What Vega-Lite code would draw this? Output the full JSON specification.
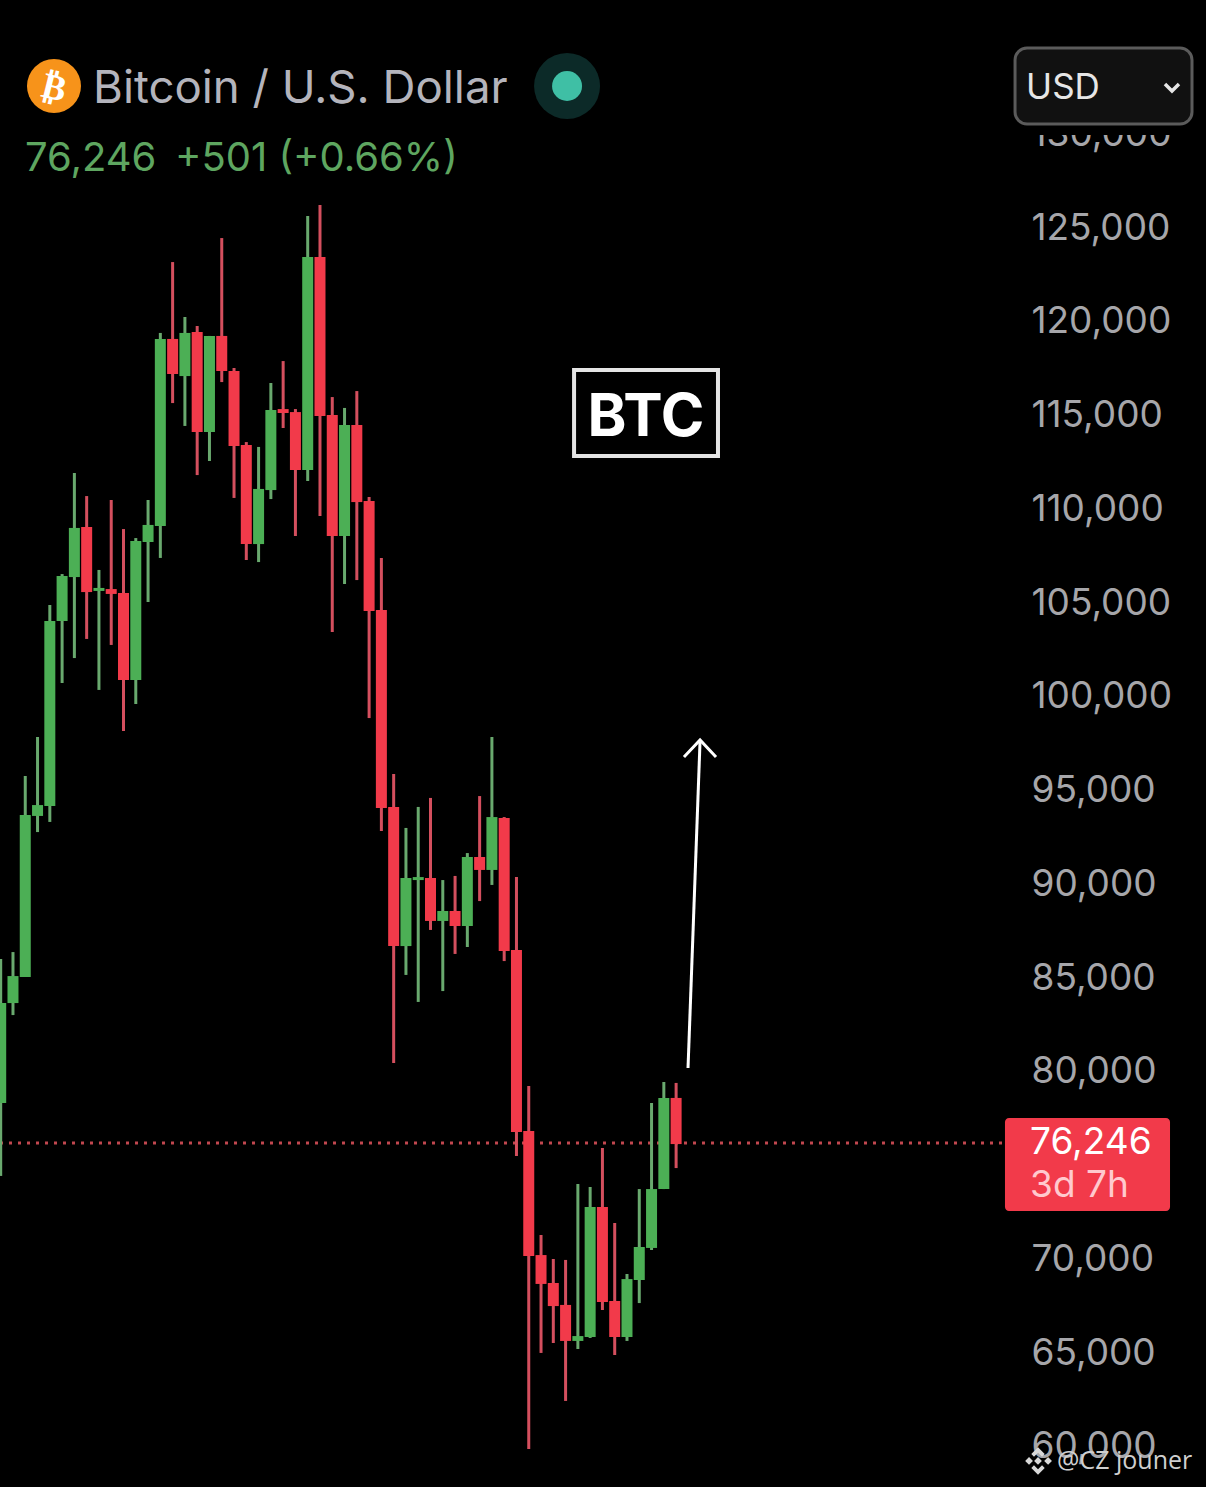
{"$schema":"https://vega.github.io/schema/vega-lite/v6.json","width":1206,"height":1487,"padding":0,"autosize":{"type":"none"},"background":"#000000","config":{"view":{"stroke":null},"axis":{"grid":false,"domain":false,"ticks":false}},
"datasets":{"candles":[
{"i":0,"high":85960,"open":78280,"close":83610,"low":74390,"dir":"up"},
{"i":1,"high":86330,"open":83610,"close":85050,"low":82970,"dir":"up"},
{"i":2,"high":95720,"open":85000,"close":93640,"low":85000,"dir":"up"},
{"i":3,"high":97800,"open":93590,"close":94170,"low":92730,"dir":"up"},
{"i":4,"high":104840,"open":94120,"close":103990,"low":93270,"dir":"up"},
{"i":5,"high":106490,"open":103990,"close":106390,"low":100680,"dir":"up"},
{"i":6,"high":111880,"open":106330,"close":108950,"low":102010,"dir":"up"},
{"i":7,"high":110650,"open":109000,"close":105530,"low":103030,"dir":"down"},
{"i":8,"high":106710,"open":105590,"close":105750,"low":100310,"dir":"up"},
{"i":9,"high":110440,"open":105690,"close":105430,"low":102710,"dir":"down"},
{"i":10,"high":108890,"open":105480,"close":100840,"low":98120,"dir":"down"},
{"i":11,"high":108410,"open":100840,"close":108250,"low":99560,"dir":"up"},
{"i":12,"high":110440,"open":108200,"close":109110,"low":105000,"dir":"up"},
{"i":13,"high":119350,"open":109050,"close":119030,"low":107350,"dir":"up"},
{"i":14,"high":123130,"open":119030,"close":117160,"low":115610,"dir":"down"},
{"i":15,"high":120200,"open":117050,"close":119350,"low":114390,"dir":"up"},
{"i":16,"high":119720,"open":119400,"close":114070,"low":111770,"dir":"down"},
{"i":17,"high":119190,"open":114070,"close":119190,"low":112520,"dir":"up"},
{"i":18,"high":124410,"open":119190,"close":117320,"low":116730,"dir":"down"},
{"i":19,"high":117480,"open":117320,"close":113320,"low":110550,"dir":"down"},
{"i":20,"high":113530,"open":113370,"close":108090,"low":107240,"dir":"down"},
{"i":21,"high":113270,"open":108090,"close":111030,"low":107130,"dir":"up"},
{"i":22,"high":116680,"open":110970,"close":115240,"low":110490,"dir":"up"},
{"i":23,"high":117850,"open":115290,"close":115080,"low":114280,"dir":"down"},
{"i":24,"high":115290,"open":115130,"close":112040,"low":108520,"dir":"down"},
{"i":25,"high":125590,"open":112040,"close":123400,"low":111450,"dir":"up"},
{"i":26,"high":126170,"open":123400,"close":114920,"low":109590,"dir":"down"},
{"i":27,"high":115930,"open":114970,"close":108520,"low":103400,"dir":"down"},
{"i":28,"high":115350,"open":108520,"close":114440,"low":105960,"dir":"up"},
{"i":29,"high":116250,"open":114440,"close":110330,"low":106170,"dir":"down"},
{"i":30,"high":110600,"open":110390,"close":104520,"low":98810,"dir":"down"},
{"i":31,"high":107350,"open":104570,"close":94010,"low":92790,"dir":"down"},
{"i":32,"high":95830,"open":94070,"close":86650,"low":80410,"dir":"down"},
{"i":33,"high":92950,"open":86650,"close":90280,"low":85110,"dir":"up"},
{"i":34,"high":94070,"open":90170,"close":90330,"low":83670,"dir":"up"},
{"i":35,"high":94550,"open":90280,"close":87990,"low":87510,"dir":"down"},
{"i":36,"high":90170,"open":87990,"close":88520,"low":84250,"dir":"up"},
{"i":37,"high":90390,"open":88520,"close":87720,"low":86230,"dir":"down"},
{"i":38,"high":91610,"open":87720,"close":91400,"low":86600,"dir":"up"},
{"i":39,"high":94650,"open":91400,"close":90710,"low":89050,"dir":"down"},
{"i":40,"high":97800,"open":90710,"close":93530,"low":89910,"dir":"up"},
{"i":41,"high":93530,"open":93480,"close":86390,"low":85850,"dir":"down"},
{"i":42,"high":90330,"open":86440,"close":76730,"low":75450,"dir":"down"},
{"i":43,"high":79190,"open":76790,"close":70120,"low":59830,"dir":"down"},
{"i":44,"high":71240,"open":70170,"close":68630,"low":64950,"dir":"down"},
{"i":45,"high":69960,"open":68680,"close":67450,"low":65480,"dir":"down"},
{"i":46,"high":69910,"open":67510,"close":65590,"low":62390,"dir":"down"},
{"i":47,"high":73960,"open":65590,"close":65850,"low":65160,"dir":"up"},
{"i":48,"high":73800,"open":65800,"close":72730,"low":65750,"dir":"up"},
{"i":49,"high":75880,"open":72730,"close":67670,"low":67240,"dir":"down"},
{"i":50,"high":71880,"open":67720,"close":65800,"low":64840,"dir":"down"},
{"i":51,"high":69160,"open":65800,"close":68890,"low":65590,"dir":"up"},
{"i":52,"high":73690,"open":68840,"close":70600,"low":67610,"dir":"up"},
{"i":53,"high":78280,"open":70550,"close":73690,"low":70440,"dir":"up"},
{"i":54,"high":79400,"open":73690,"close":78550,"low":73690,"dir":"up"},
{"i":55,"high":79350,"open":78550,"close":76090,"low":74810,"dir":"down"}
]},
"layer":[
{"data":{"values":[{"start":-0.057,"end":81.78,"price":76147}]},
 "mark":{"type":"rule","color":"#c2474f","strokeWidth":3,"strokeDash":[3,6]},
 "encoding":{"x":{"field":"start","type":"quantitative","scale":{"domain":[-0.057,98.15],"nice":false,"zero":false,"padding":0},"axis":null},"x2":{"field":"end"},
  "y":{"field":"price","type":"quantitative","scale":{"domain":[57800,137107],"nice":false,"zero":false,"padding":0},
   "axis":{"orient":"right","offset":-175,"title":null,"values":[60000,65000,70000,80000,85000,90000,95000,100000,105000,110000,115000,120000,125000,130000],"format":",.0f","labelAlign":"left","labelPadding":0,"tickSize":0,"labelFontSize":37,"labelFont":"Inter","labelColor":"#a6a6aa","labelOverlap":false,"labelBound":false,"labelFlush":false,"labelOffset":1}}}},
{"data":{"name":"candles"},
 "mark":{"type":"rule","strokeWidth":3,"clip":true},
 "encoding":{"x":{"field":"i","type":"quantitative"},"y":{"field":"high","type":"quantitative"},"y2":{"field":"low"},
  "color":{"field":"dir","type":"nominal","legend":null,"scale":{"domain":["up","down"],"range":["#69a96e","#d44f5e"]}}}},
{"data":{"name":"candles"},
 "mark":{"type":"bar","orient":"vertical","width":11,"clip":true},
 "encoding":{"x":{"field":"i","type":"quantitative"},"y":{"field":"open","type":"quantitative"},"y2":{"field":"close"},
  "fill":{"field":"dir","type":"nominal","legend":null,"scale":{"domain":["up","down"],"range":["#4caf55","#f23a4a"]}}}},
{"data":{"values":[{"a":81.5,"b":98.15,"top":137107,"bottom":129907}]},
 "mark":{"type":"rect","fill":"#000000"},
 "encoding":{"x":{"field":"a","type":"quantitative"},"x2":{"field":"b"},"y":{"field":"top","type":"quantitative"},"y2":{"field":"bottom"}}},
{"data":{"values":[{"a":82.6,"b":97.01,"top":134547,"bottom":130494}]},
 "mark":{"type":"rect","fill":"#111111","stroke":"#5b5b5b","strokeWidth":3,"cornerRadius":12},
 "encoding":{"x":{"field":"a","type":"quantitative"},"x2":{"field":"b"},"y":{"field":"top","type":"quantitative"},"y2":{"field":"bottom"}}},
{"data":{"values":[{"a":81.78,"b":95.22,"top":77480,"bottom":72520}]},
 "mark":{"type":"rect","fill":"#f23a4a","cornerRadius":4},
 "encoding":{"x":{"field":"a","type":"quantitative"},"x2":{"field":"b"},"y":{"field":"top","type":"quantitative"},"y2":{"field":"bottom"}}},
{"data":{"values":[{"a":46.69,"b":58.41,"top":117374,"bottom":112787}]},
 "mark":{"type":"rect","fill":"#000000","fillOpacity":0,"stroke":"#e4e4e4","strokeWidth":4},
 "encoding":{"x":{"field":"a","type":"quantitative"},"x2":{"field":"b"},"y":{"field":"top","type":"quantitative"},"y2":{"field":"bottom"}}},
{"data":{"values":[{"i":52.55,"p":114814,"t":"BTC"}]},
 "mark":{"type":"text","font":"Inter","fontWeight":700,"fontSize":59,"color":"#ffffff","align":"center","baseline":"middle"},
 "encoding":{"x":{"field":"i","type":"quantitative"},"y":{"field":"p","type":"quantitative"},"text":{"field":"t"}}},
{"data":{"values":[{"i":55.97,"p":80150,"seg":"shaft"},{"i":56.95,"p":97590,"seg":"shaft"},{"i":55.64,"p":96730,"seg":"head"},{"i":56.95,"p":97640,"seg":"head"},{"i":58.25,"p":96730,"seg":"head"}]},
 "mark":{"type":"line","color":"#ffffff","strokeWidth":3},
 "encoding":{"x":{"field":"i","type":"quantitative"},"y":{"field":"p","type":"quantitative"},"detail":{"field":"seg"}}},
{"data":{"values":[{"i":94.81,"p":132627},{"i":95.38,"p":132254},{"i":95.95,"p":132627}]},
 "mark":{"type":"line","color":"#e6e6e6","strokeWidth":3.5},
 "encoding":{"x":{"field":"i","type":"quantitative"},"y":{"field":"p","type":"quantitative"}}},
{"data":{"values":[{"i":4.34,"p":132520}]},
 "mark":{"type":"point","filled":true,"size":2916,"color":"#f7931a","opacity":1},
 "encoding":{"x":{"field":"i","type":"quantitative"},"y":{"field":"p","type":"quantitative"}}},
{"data":{"values":[{"i":4.34,"p":132400,"t":"₿"}]},
 "mark":{"type":"text","font":"DejaVu Sans","fontWeight":700,"fontSize":36,"color":"#ffffff","align":"center","baseline":"middle","angle":14},
 "encoding":{"x":{"field":"i","type":"quantitative"},"y":{"field":"p","type":"quantitative"},"text":{"field":"t"}}},
{"data":{"values":[{"i":46.12,"p":132520}]},
 "mark":{"type":"point","filled":true,"size":4356,"color":"#0c2a28","opacity":1},
 "encoding":{"x":{"field":"i","type":"quantitative"},"y":{"field":"p","type":"quantitative"}}},
{"data":{"values":[{"i":46.12,"p":132520}]},
 "mark":{"type":"point","filled":true,"size":900,"color":"#3fbfa5","opacity":1},
 "encoding":{"x":{"field":"i","type":"quantitative"},"y":{"field":"p","type":"quantitative"}}},
{"data":{"values":[{"i":7.52,"p":132360,"t":"Bitcoin / U.S. Dollar"}]},
 "mark":{"type":"text","font":"Inter","fontSize":45.6,"color":"#b4b4bc","align":"left","baseline":"middle"},
 "encoding":{"x":{"field":"i","type":"quantitative"},"y":{"field":"p","type":"quantitative"},"text":{"field":"t"}}},
{"data":{"values":[{"i":1.98,"p":128627,"t":"76,246\u00a0\u2009+501 (+0.66%)"}]},
 "mark":{"type":"text","font":"Inter","fontSize":40,"color":"#5ea660","align":"left","baseline":"middle"},
 "encoding":{"x":{"field":"i","type":"quantitative"},"y":{"field":"p","type":"quantitative"},"text":{"field":"t"}}},
{"data":{"values":[{"i":83.5,"p":132413,"t":"USD"}]},
 "mark":{"type":"text","font":"Inter","fontSize":35,"color":"#e6e6e6","align":"left","baseline":"middle"},
 "encoding":{"x":{"field":"i","type":"quantitative"},"y":{"field":"p","type":"quantitative"},"text":{"field":"t"}}},
{"data":{"values":[{"i":83.82,"p":76147,"t":"76,246"}]},
 "mark":{"type":"text","font":"Inter","fontSize":37,"color":"#ffffff","align":"left","baseline":"middle"},
 "encoding":{"x":{"field":"i","type":"quantitative"},"y":{"field":"p","type":"quantitative"},"text":{"field":"t"}}},
{"data":{"values":[{"i":83.82,"p":73854,"t":"3d 7h"}]},
 "mark":{"type":"text","font":"Inter","fontSize":37,"color":"#ffc9ce","align":"left","baseline":"middle"},
 "encoding":{"x":{"field":"i","type":"quantitative"},"y":{"field":"p","type":"quantitative"},"text":{"field":"t"}}},
{"data":{"values":[{"i":86.02,"p":59187,"t":"@CZ jouner"}]},
 "mark":{"type":"text","font":"Open Sans","fontSize":25,"color":"#cfcfcf","align":"left","baseline":"middle"},
 "encoding":{"x":{"field":"i","type":"quantitative"},"y":{"field":"p","type":"quantitative"},"text":{"field":"t"}}},
{"data":{"values":[{"i":83.74,"p":59187},{"i":84.47,"p":59187},{"i":85.29,"p":59187}]},
 "mark":{"type":"point","filled":true,"shape":"diamond","size":60,"color":"#d8d8d8","opacity":1},
 "encoding":{"x":{"field":"i","type":"quantitative"},"y":{"field":"p","type":"quantitative"}}},
{"data":{"values":[{"i":84.47,"p":59667}]},
 "mark":{"type":"point","filled":true,"shape":"M-1,0.3 L0,-0.7 L1,0.3 L0.6,0.7 L0,0.1 L-0.6,0.7 Z","size":180,"color":"#d8d8d8","opacity":1},
 "encoding":{"x":{"field":"i","type":"quantitative"},"y":{"field":"p","type":"quantitative"}}},
{"data":{"values":[{"i":84.47,"p":58707}]},
 "mark":{"type":"point","filled":true,"shape":"M-1,-0.3 L0,0.7 L1,-0.3 L0.6,-0.7 L0,-0.1 L-0.6,-0.7 Z","size":180,"color":"#d8d8d8","opacity":1},
 "encoding":{"x":{"field":"i","type":"quantitative"},"y":{"field":"p","type":"quantitative"}}}
]}
